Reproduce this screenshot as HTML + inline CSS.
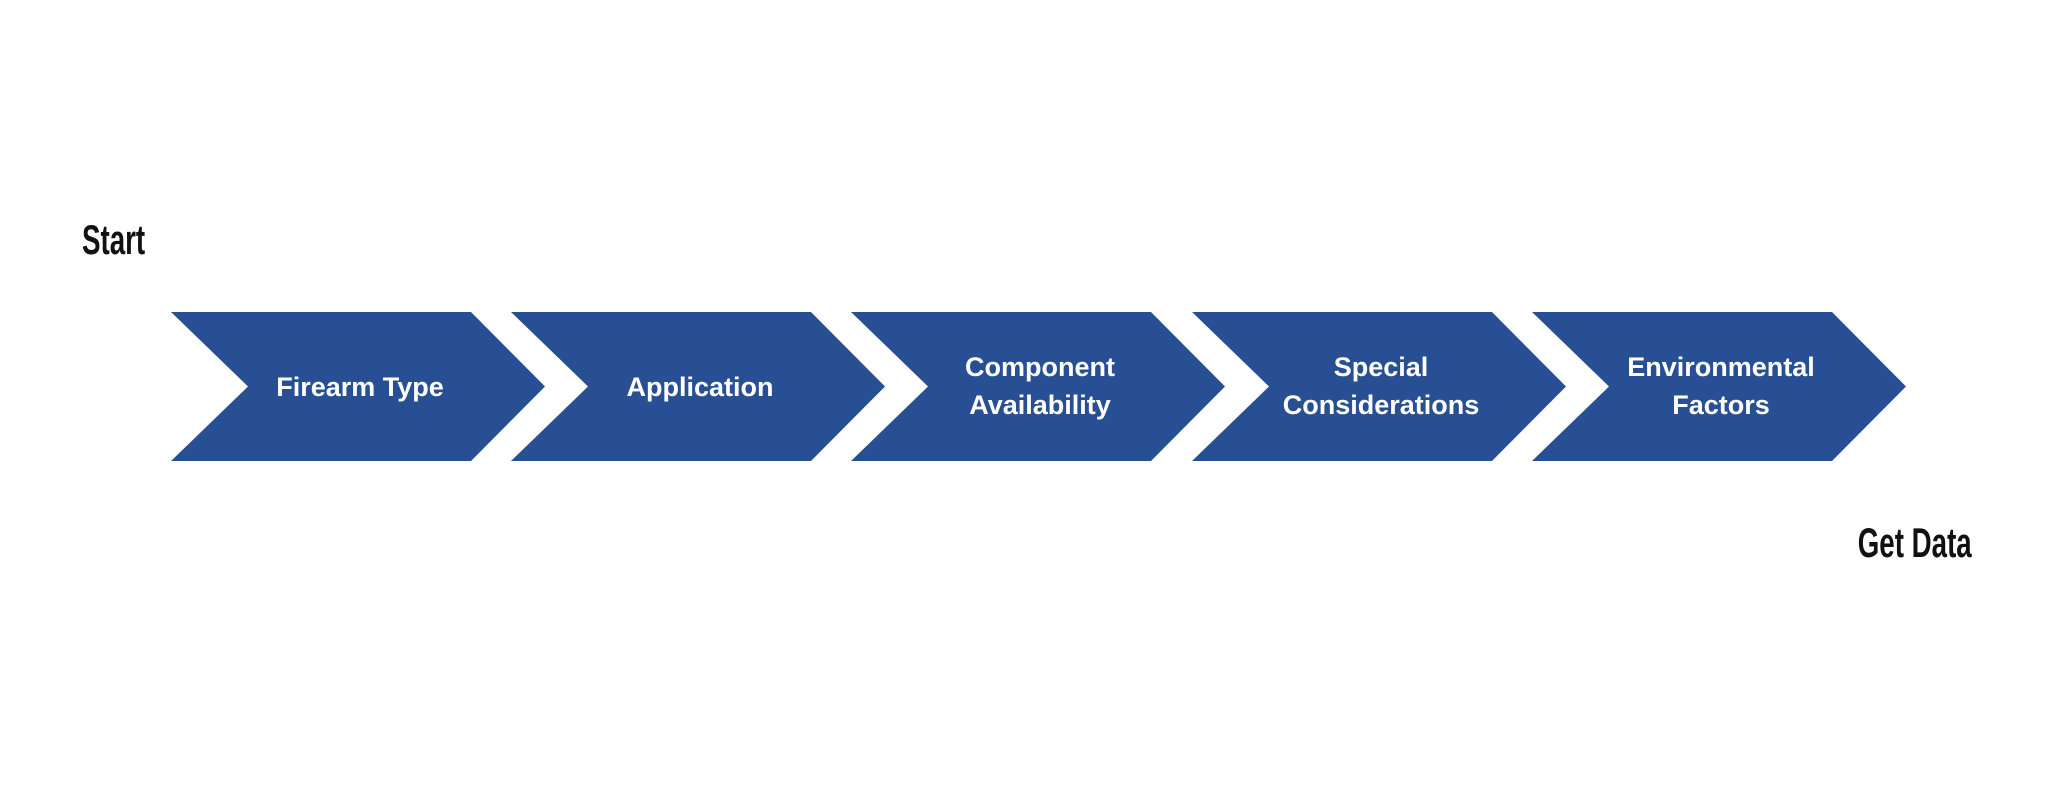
<!DOCTYPE html>
<html><head><style>
html,body{margin:0;padding:0;background:#fff;}
body{width:2048px;height:788px;position:relative;overflow:hidden;font-family:"Liberation Sans",sans-serif;}
.lbl{position:absolute;font-size:42px;font-weight:bold;color:#111;transform:scaleX(0.66);white-space:nowrap;line-height:1;}
</style></head><body>
<div class="lbl" style="left:82px;top:219px;transform-origin:left top;">Start</div>
<div class="lbl" style="right:76px;top:522px;transform-origin:right top;">Get Data</div>
<svg width="2048" height="788" style="position:absolute;left:0;top:0">
<g fill="#284f94">
<polygon points="171,312 471,312 545,386.5 471,461 171,461 248,386.5"/>
<polygon points="511,312 811,312 885,386.5 811,461 511,461 588,386.5"/>
<polygon points="851,312 1151,312 1225,386.5 1151,461 851,461 928,386.5"/>
<polygon points="1192,312 1492,312 1566,386.5 1492,461 1192,461 1269,386.5"/>
<polygon points="1532,312 1832,312 1906,386.5 1832,461 1532,461 1609,386.5"/>
</g>
<g fill="#fff" font-family="Liberation Sans, sans-serif" font-weight="bold" font-size="27" text-anchor="middle">
<text x="360" y="396">Firearm Type</text>
<text x="700" y="396">Application</text>
<text x="1040" y="376">Component</text>
<text x="1040" y="414">Availability</text>
<text x="1381" y="376">Special</text>
<text x="1381" y="414">Considerations</text>
<text x="1721" y="376">Environmental</text>
<text x="1721" y="414">Factors</text>
</g>
</svg>
</body></html>
